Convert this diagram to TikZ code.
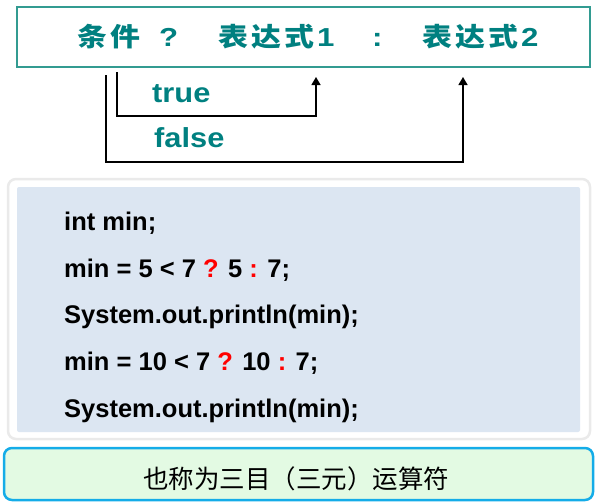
\documentclass[tikz,border=0pt]{standalone}
\usepackage{fontspec}
\usepackage{graphicx}
\setmainfont{Liberation Sans}
\newfontfamily\cjk{Noto Sans CJK SC}
\usetikzlibrary{arrows.meta}
\definecolor{tealtxt}{RGB}{0,128,128}
\definecolor{tealbox}{RGB}{50,155,145}
\definecolor{codebg}{RGB}{220,230,242}
\definecolor{outerg}{RGB}{234,234,234}
\definecolor{bluebd}{RGB}{20,172,232}
\definecolor{greenbg}{RGB}{227,250,227}
\definecolor{qred}{RGB}{255,0,0}
\newcommand{\cjkc}[1]{\makebox[33pt][l]{\scalebox{1.15}[1]{\cjk\bfseries #1}}}
\newcommand{\latw}[1]{\scalebox{1.2}[1]{\fontsize{26}{26}\selectfont\bfseries #1}}
\newcommand{\redc}[1]{\textcolor{qred}{#1}}
\begin{document}
\begin{tikzpicture}[x=1pt,y=-1pt,
  toptxt/.style={anchor=base west,inner sep=0pt,text=tealtxt,font=\fontsize{26}{26}\selectfont\bfseries},
  tflabel/.style={anchor=base west,inner sep=0pt,text=tealtxt,font=\fontsize{27.5}{27.5}\selectfont\bfseries},
  codeline/.style={anchor=base west,inner sep=0pt,text=black,font=\fontsize{25.5}{25.5}\selectfont\bfseries},
  conn/.style={draw=black,line width=1.4pt},
  arr/.style={conn,-{Triangle[width=9pt,length=8pt]}}
]
\useasboundingbox (0,0) rectangle (604,503);
% top box
\draw[draw=tealbox,line width=1.5pt,fill=white] (17,7) rectangle (590,67);
\node[toptxt] (cond) at (77,47) {\cjkc{条}\cjkc{件}};
\node[toptxt] (qm) at (159,47) {\latw{?}};
\node[toptxt] (expr1) at (218,47) {\cjkc{表}\cjkc{达}\cjkc{式}\latw{1}};
\node[toptxt] (colon) at (372,47) {\latw{:}};
\node[toptxt] (expr2) at (422,47) {\cjkc{表}\cjkc{达}\cjkc{式}\latw{2}};
% connectors
\coordinate (ts) at (117,72);
\coordinate (tc1) at (117,116);
\coordinate (tc2) at (316,116);
\coordinate (te) at (316,77);
\coordinate (fs) at (106,75);
\coordinate (fc1) at (106,162);
\coordinate (fc2) at (463,162);
\coordinate (fe) at (463,77);
\draw[arr] (ts) -- (tc1) -- (tc2) -- (te);
\draw[arr] (fs) -- (fc1) -- (fc2) -- (fe);
\node[tflabel] (true) at (152,102) {\scalebox{1.12}[1]{true}};
\node[tflabel] (false) at (154,147) {\scalebox{1.12}[1]{false}};
% code panel
\draw[draw=outerg,line width=2.5pt,fill=white,rounded corners=8pt] (8,179) rectangle (590,439);
\fill[codebg,rounded corners=2pt] (17,187) rectangle (580,432);
\node[codeline] (l1) at (64,230) {int min;};
\node[codeline] (l2) at (64,277) {min = 5 < 7 \redc{?} 5 \redc{:} 7;};
\node[codeline] (l3) at (64,323) {System.out.println(min);};
\node[codeline] (l4) at (64,370) {min = 10 < 7 \redc{?} 10 \redc{:} 7;};
\node[codeline] (l5) at (64,417) {System.out.println(min);};
% bottom box
\draw[draw=bluebd,line width=2.5pt,fill=greenbg,rounded corners=8pt] (4,448) rectangle (593,500);
\node[anchor=base west,inner sep=0pt,font=\fontsize{25.5}{25.5}\selectfont\cjk] (note) at (143,488) {也称为三目（三元）运算符};
\end{tikzpicture}
\end{document}
